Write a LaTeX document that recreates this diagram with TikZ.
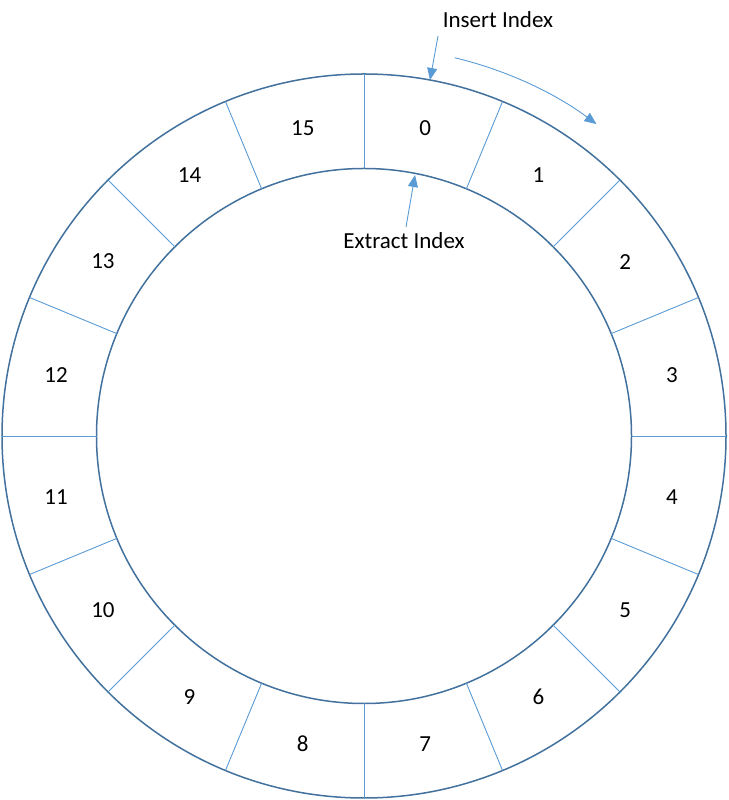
\documentclass[tikz,border=0pt]{standalone}
\usepackage{fontspec}
\setmainfont{Carlito}
\usetikzlibrary{arrows.meta,calc}
\definecolor{ringblue}{HTML}{41719C}
\definecolor{lineblue}{HTML}{5B9BD5}
\tikzset{
  ring/.style={draw=ringblue, line width=1.5pt},
  divider/.style={draw=lineblue, line width=0.9pt},
  slotlabel/.style={font=\fontsize{23}{27}\selectfont, text=black, inner sep=0pt},
  caption/.style={font=\fontsize{23}{27}\selectfont, text=black, inner sep=1pt},
  pointer/.style={draw=lineblue, line width=0.9pt, -{Triangle[length=12pt,width=10pt]}},
}
\begin{document}
\begin{tikzpicture}[x=1pt,y=1pt]
\useasboundingbox (0,0) rectangle (728,800);
\coordinate (c) at (364,364);
\draw[ring] (c) circle[radius=362];
\draw[ring] (c) circle[radius=267.5];
\foreach \k in {0,...,15}{
  \draw[divider] ($(c)+({90-22.5*\k}:267.5)$) -- ($(c)+({90-22.5*\k}:362)$);
}
\foreach \k in {0,...,15}{
  \node[slotlabel] (s\k) at ($(c)+({90-11.25-22.5*\k}:314)$) {\k};
}
\node[caption] (ins) at (498,780) {Insert Index};
\node[caption] (ext) at (404,559) {Extract Index};
\coordinate (insfrom) at (438,764);
\coordinate (instip) at (430,720);
\coordinate (extfrom) at (406,573);
\coordinate (exttip) at (415,625);
\draw[pointer] (insfrom) -- (instip);
\draw[pointer] (extfrom) -- (exttip);
\coordinate (rotfrom) at ($(c)+(76.5:389)$);
\draw[pointer] (rotfrom) arc[start angle=76.5, end angle=53.3, radius=389];
\end{tikzpicture}
\end{document}
